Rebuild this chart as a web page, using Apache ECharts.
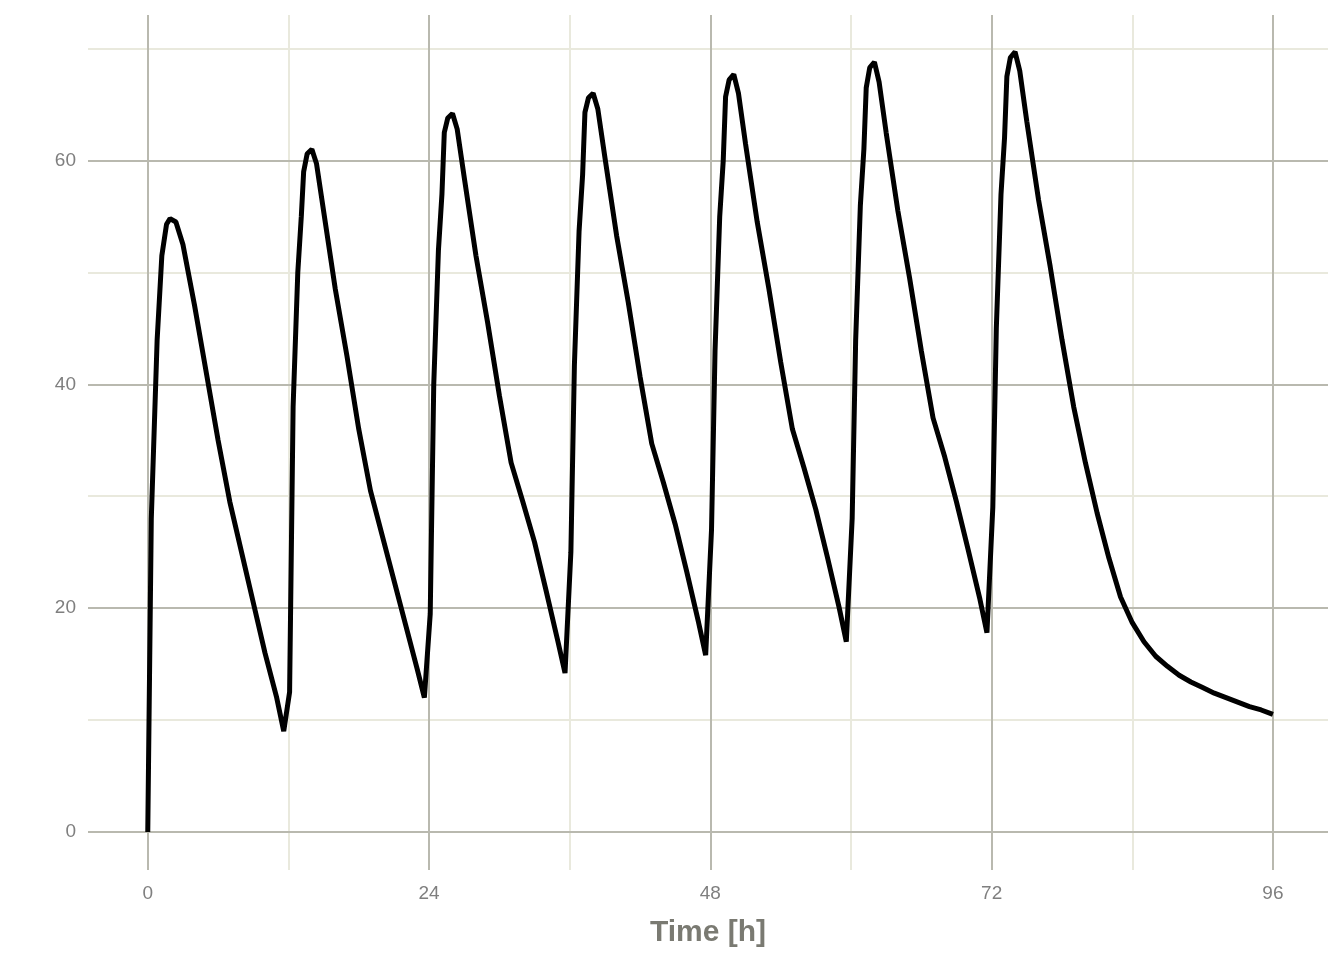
<!DOCTYPE html>
<html><head><meta charset="utf-8">
<script src="https://cdn.jsdelivr.net/npm/echarts@6/dist/echarts.min.js"></script>
<style>body{margin:0}#main{width:1344px;height:960px}</style>
</head><body><div id="main"></div>
<script>
// 时间 (h)
var times = [0,0.3,0.8,1.2,1.6,1.9,2.4,3,4,5,6,7,8,9,10,11,11.6,
  12.1,12.4,12.8,13.1,13.3,13.6,14.0,14.4,15,16,17,18,19,20,21,22,23,23.6,
  24.1,24.4,24.8,25.1,25.3,25.6,26.0,26.4,27,28,29,30,31,32,33,34,35,35.6,
  36.1,36.4,36.8,37.1,37.3,37.6,38.0,38.4,39,40,41,42,43,44,45,46,47,47.6,
  48.1,48.4,48.8,49.1,49.3,49.6,50.0,50.4,51,52,53,54,55,56,57,58,59,59.6,
  60.1,60.4,60.8,61.1,61.3,61.6,62.0,62.4,63,64,65,66,67,68,69,70,71,71.6,
  72.1,72.4,72.8,73.1,73.3,73.6,74.0,74.4,75,76,77,78,79,80,81,82,83,84,85,86,87,88,89,90,91,92,93,94,95,96];
// 浓度
var conc = [0,28,44,51.5,54.3,54.8,54.5,52.5,47,41,35,29.5,25,20.5,16,12,9,
  12.5,38,50,55,59,60.6,61,59.7,55.5,48.5,42.5,36,30.5,26.5,22.5,18.5,14.5,12,
  19.5,40,52,57,62.5,63.8,64.2,62.8,58.5,51.5,45.5,39,33,29.5,25.9,21.5,17,14.2,
  25,41.7,53.7,58.7,64.3,65.6,66,64.6,60.3,53.3,47.3,40.7,34.7,31.2,27.5,23.2,18.7,15.8,
  27,43,55,60,65.7,67.2,67.7,66,61.5,54.5,48.5,42,36,32.5,28.8,24.5,20,17,
  28,44,56,61,66.5,68.3,68.8,67,62.5,55.5,49.5,43,37,33.5,29.5,25.2,20.8,17.8,
  29,45,57,62,67.5,69.2,69.7,68,63.5,56.5,50.5,44,38,33,28.5,24.5,21,18.7,17,15.7,14.8,14,13.4,12.9,12.4,12,11.6,11.2,10.9,10.5];
var xMajor = [0, 24, 48, 72, 96];
var xMinor = [12, 36, 60, 84];
var yMajor = [0, 20, 40, 60];
var yMinor = [10, 30, 50, 70];

var points = times.map(function (t, i) { return [t, conc[i]]; });
var major = '#b9b9af', minor = '#e9e9dd', txt = '#7f7f7f';

function axis(type, vals, extra) {
  var a = {
    type: 'value', min: type === 'x' ? -5.1 : -3.4, max: type === 'x' ? 100.7 : 73,
    axisLine: { show: false },
    axisTick: { show: type === 'x', customValues: vals, length: 6, lineStyle: { color: major, width: 2 } },
    axisLabel: { customValues: vals, color: txt, fontSize: 19, fontFamily: 'Liberation Sans', margin: type === 'x' ? 14 : 12 },
    splitLine: { show: false }
  };
  return Object.assign(a, extra || {});
}

// 网格线用 markLine 画
var lines = [];
xMinor.forEach(function (v) { lines.push({ xAxis: v, lineStyle: { color: minor } }); });
yMinor.forEach(function (v) { lines.push({ yAxis: v, lineStyle: { color: minor } }); });
xMajor.forEach(function (v) { lines.push({ xAxis: v, lineStyle: { color: major } }); });
yMajor.forEach(function (v) { lines.push({ yAxis: v, lineStyle: { color: major } }); });

var chart = echarts.init(document.getElementById('main'));
chart.setOption({
  animation: false,
  grid: { left: 88, right: 16, top: 15, bottom: 90 },
  xAxis: axis('x', xMajor, {
    name: 'Time [h]', nameLocation: 'middle', nameGap: 48,
    nameTextStyle: { color: '#7a7a72', fontSize: 30, fontWeight: 'bold', fontFamily: 'Liberation Sans' }
  }),
  yAxis: axis('y', yMajor),
  series: [{
    type: 'line', data: points, showSymbol: false,
    lineStyle: { color: '#000', width: 5 }, z: 5,
    markLine: { silent: true, symbol: 'none', label: { show: false }, lineStyle: { type: 'solid', width: 2 }, data: lines, z: 1 }
  }]
});
</script></body></html>
